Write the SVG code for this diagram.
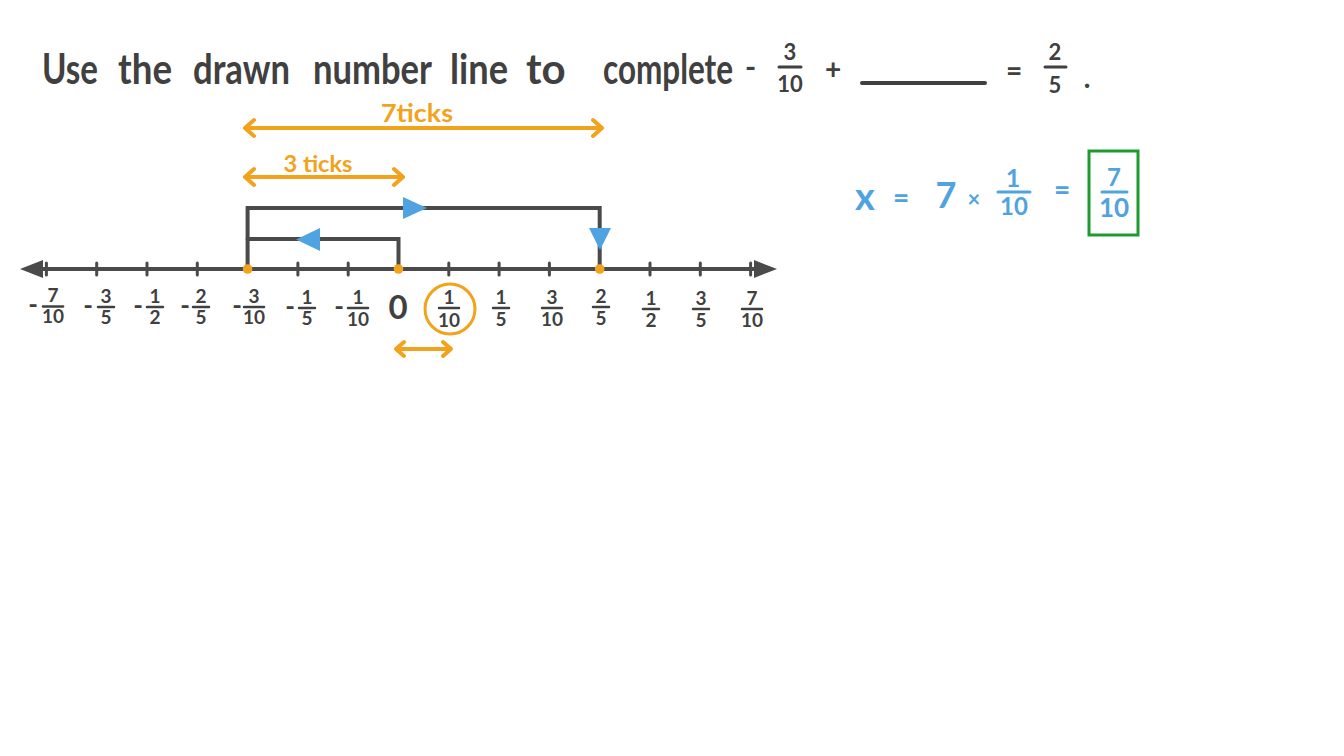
<svg xmlns="http://www.w3.org/2000/svg" width="1344" height="756" viewBox="0 0 1344 756">
<style>
text{font-family:Lato,"Open Sans","Liberation Sans",sans-serif;font-weight:700}
.t{fill:#404040;font-size:42px}
.n{fill:#404040;font-size:19px;text-anchor:middle}
.m{fill:#404040;font-size:26px;text-anchor:middle}
.o{fill:#F2A21B;text-anchor:middle}
.b{fill:#4FA3E0;text-anchor:middle}
.bar{stroke:#404040;stroke-width:2.5;stroke-linecap:round}
.bbar{stroke:#4FA3E0;stroke-width:3;stroke-linecap:round}
.gl{stroke:#4a4a4a;stroke-width:4;fill:none;stroke-linecap:round}
.tk{stroke:#4a4a4a;stroke-width:3;stroke-linecap:round}
.or{stroke:#F2A21B;stroke-width:4;fill:none;stroke-linecap:round;stroke-linejoin:round}
.dot{fill:#F2A21B}
.tri{fill:#4FA3E0}
</style>
<rect width="1344" height="756" fill="#ffffff"/>

<g id="title">
<text class="t" y="84"><tspan x="42" textLength="56" lengthAdjust="spacingAndGlyphs">Use</tspan><tspan x="118" textLength="54" lengthAdjust="spacingAndGlyphs">the</tspan><tspan x="193" textLength="97" lengthAdjust="spacingAndGlyphs">drawn</tspan><tspan x="313" textLength="119" lengthAdjust="spacingAndGlyphs">number</tspan><tspan x="450" textLength="58" lengthAdjust="spacingAndGlyphs">line</tspan><tspan x="526">to</tspan><tspan x="603" textLength="130" lengthAdjust="spacingAndGlyphs">complete</tspan><tspan x="745" y="78" style="font-size:30px">-</tspan></text>
<text x="790" y="60" style="fill:#404040;font-size:22px;text-anchor:middle">3</text>
<line class="bar" x1="779" y1="67" x2="801" y2="67" style="stroke-width:3"/>
<text x="790" y="92" style="fill:#404040;font-size:22px;text-anchor:middle">10</text>
<text x="833" y="79" style="fill:#404040;font-size:28px;text-anchor:middle">+</text>
<line x1="862" y1="83" x2="985" y2="83" style="stroke:#404040;stroke-width:4;stroke-linecap:round"/>
<text x="1014" y="81" style="fill:#404040;font-size:28px;text-anchor:middle">=</text>
<text x="1055" y="60" style="fill:#404040;font-size:22px;text-anchor:middle">2</text>
<line class="bar" x1="1045" y1="67" x2="1066" y2="67" style="stroke-width:3"/>
<text x="1055" y="93" style="fill:#404040;font-size:22px;text-anchor:middle">5</text>
<text x="1087" y="88" style="fill:#404040;font-size:28px;text-anchor:middle">.</text>
</g>

<g id="connectors">
<path class="gl" d="M247.6,269 V208 H599.7 V269"/>
<path class="gl" d="M247.6,239 H398.5 V269"/>
<polygon class="tri" points="403,197 403,219 427,208"/>
<polygon class="tri" points="589,228 611,228 600,250"/>
<polygon class="tri" points="320,228 320,251 296,239.5"/>
</g>

<g id="number-line">
<line class="gl" x1="32" y1="269" x2="764" y2="269"/>
<polygon points="20,269 43,260 43,278" fill="#4a4a4a"/>
<polygon points="777,269 754,260 754,278" fill="#4a4a4a"/>
<g class="tk">
<line x1="46.4" y1="263" x2="46.4" y2="275"/>
<line x1="96.7" y1="263" x2="96.7" y2="275"/>
<line x1="147" y1="263" x2="147" y2="275"/>
<line x1="197.3" y1="263" x2="197.3" y2="275"/>
<line x1="297.9" y1="263" x2="297.9" y2="275"/>
<line x1="348.2" y1="263" x2="348.2" y2="275"/>
<line x1="448.8" y1="263" x2="448.8" y2="275"/>
<line x1="499.1" y1="263" x2="499.1" y2="275"/>
<line x1="549.4" y1="263" x2="549.4" y2="275"/>
<line x1="650" y1="263" x2="650" y2="275"/>
<line x1="700.3" y1="263" x2="700.3" y2="275"/>
<line x1="750.6" y1="263" x2="750.6" y2="275"/>
</g>
<circle class="dot" cx="247.6" cy="269" r="4.8"/>
<circle class="dot" cx="398.5" cy="269" r="4.8"/>
<circle class="dot" cx="599.7" cy="269" r="4.8"/>
</g>

<g id="labels">
<g id="l-m7-10"><text class="m" x="33" y="314">-</text><text class="n" x="53" y="302">7</text><line class="bar" x1="43" y1="306.5" x2="63" y2="306.5"/><text class="n" x="53" y="323">10</text></g>
<g id="l-m3-5"><text class="m" x="88" y="315">-</text><text class="n" x="106" y="303">3</text><line class="bar" x1="98" y1="307" x2="114" y2="307"/><text class="n" x="106" y="324">5</text></g>
<g id="l-m1-2"><text class="m" x="138" y="315">-</text><text class="n" x="155" y="303">1</text><line class="bar" x1="147" y1="307" x2="163" y2="307"/><text class="n" x="155" y="324">2</text></g>
<g id="l-m2-5"><text class="m" x="185" y="315">-</text><text class="n" x="201" y="303">2</text><line class="bar" x1="193" y1="307" x2="209" y2="307"/><text class="n" x="201" y="324">5</text></g>
<g id="l-m3-10"><text class="m" x="237" y="315">-</text><text class="n" x="254" y="303">3</text><line class="bar" x1="244" y1="307" x2="264" y2="307"/><text class="n" x="254" y="324">10</text></g>
<g id="l-m1-5"><text class="m" x="290" y="316">-</text><text class="n" x="307" y="304">1</text><line class="bar" x1="299" y1="308" x2="315" y2="308"/><text class="n" x="307" y="325">5</text></g>
<g id="l-m1-10"><text class="m" x="339" y="316">-</text><text class="n" x="358" y="304">1</text><line class="bar" x1="348" y1="308" x2="368" y2="308"/><text class="n" x="358" y="326">10</text></g>
<g id="l-0"><text x="398" y="319" style="fill:#404040;font-size:33px;text-anchor:middle">0</text></g>
<g id="l-1-10"><text class="n" x="449" y="304">1</text><line class="bar" x1="439" y1="308" x2="459" y2="308"/><text class="n" x="449" y="327">10</text></g>
<g id="l-1-5"><text class="n" x="501" y="304">1</text><line class="bar" x1="493" y1="308" x2="509" y2="308"/><text class="n" x="501" y="326">5</text></g>
<g id="l-3-10"><text class="n" x="552" y="304">3</text><line class="bar" x1="542" y1="308" x2="562" y2="308"/><text class="n" x="552" y="326">10</text></g>
<g id="l-2-5"><text class="n" x="601" y="303">2</text><line class="bar" x1="593" y1="307" x2="609" y2="307"/><text class="n" x="601" y="325">5</text></g>
<g id="l-1-2"><text class="n" x="651" y="305">1</text><line class="bar" x1="643" y1="309" x2="659" y2="309"/><text class="n" x="651" y="327">2</text></g>
<g id="l-3-5"><text class="n" x="701" y="305">3</text><line class="bar" x1="693" y1="309" x2="709" y2="309"/><text class="n" x="701" y="327">5</text></g>
<g id="l-7-10"><text class="n" x="752" y="305">7</text><line class="bar" x1="742" y1="309" x2="762" y2="309"/><text class="n" x="752" y="327">10</text></g>
</g>

<g id="orange-marks">
<path class="or" d="M245,128 H602 M254,120 L245,128 L254,136 M593,120 L602,128 L593,136"/>
<text class="o" x="417" y="122" style="font-size:25px" textLength="72" lengthAdjust="spacingAndGlyphs">7ticks</text>
<path class="or" d="M245,177 H403 M254,169 L245,177 L254,185 M394,169 L403,177 L394,185"/>
<text class="o" x="318" y="172" style="font-size:22px" textLength="69" lengthAdjust="spacingAndGlyphs">3 ticks</text>
<circle cx="450" cy="309" r="25" fill="none" stroke="#F2A21B" stroke-width="3"/>
<path class="or" d="M396,349 H451 M404,342 L396,349 L404,356 M443,342 L451,349 L443,356"/>
</g>

<g id="equation">
<text class="b" x="865" y="210" style="font-size:38px">x</text>
<text class="b" x="901" y="208" style="font-size:28px">=</text>
<text class="b" x="946" y="208" style="font-size:36px">7</text>
<text class="b" x="974" y="207" style="font-size:22px">×</text>
<text class="b" x="1013" y="187" style="font-size:25px">1</text>
<line class="bbar" x1="998" y1="192" x2="1030" y2="192"/>
<text class="b" x="1014" y="215" style="font-size:24px">10</text>
<text class="b" x="1062" y="200" style="font-size:28px">=</text>
<rect x="1089" y="151" width="49" height="84" fill="none" stroke="#1E9B2E" stroke-width="3"/>
<text class="b" x="1114" y="186" style="font-size:24px">7</text>
<line class="bbar" x1="1102" y1="192" x2="1127" y2="192"/>
<text class="b" x="1114" y="217" style="font-size:26px">10</text>
</g>
</svg>
